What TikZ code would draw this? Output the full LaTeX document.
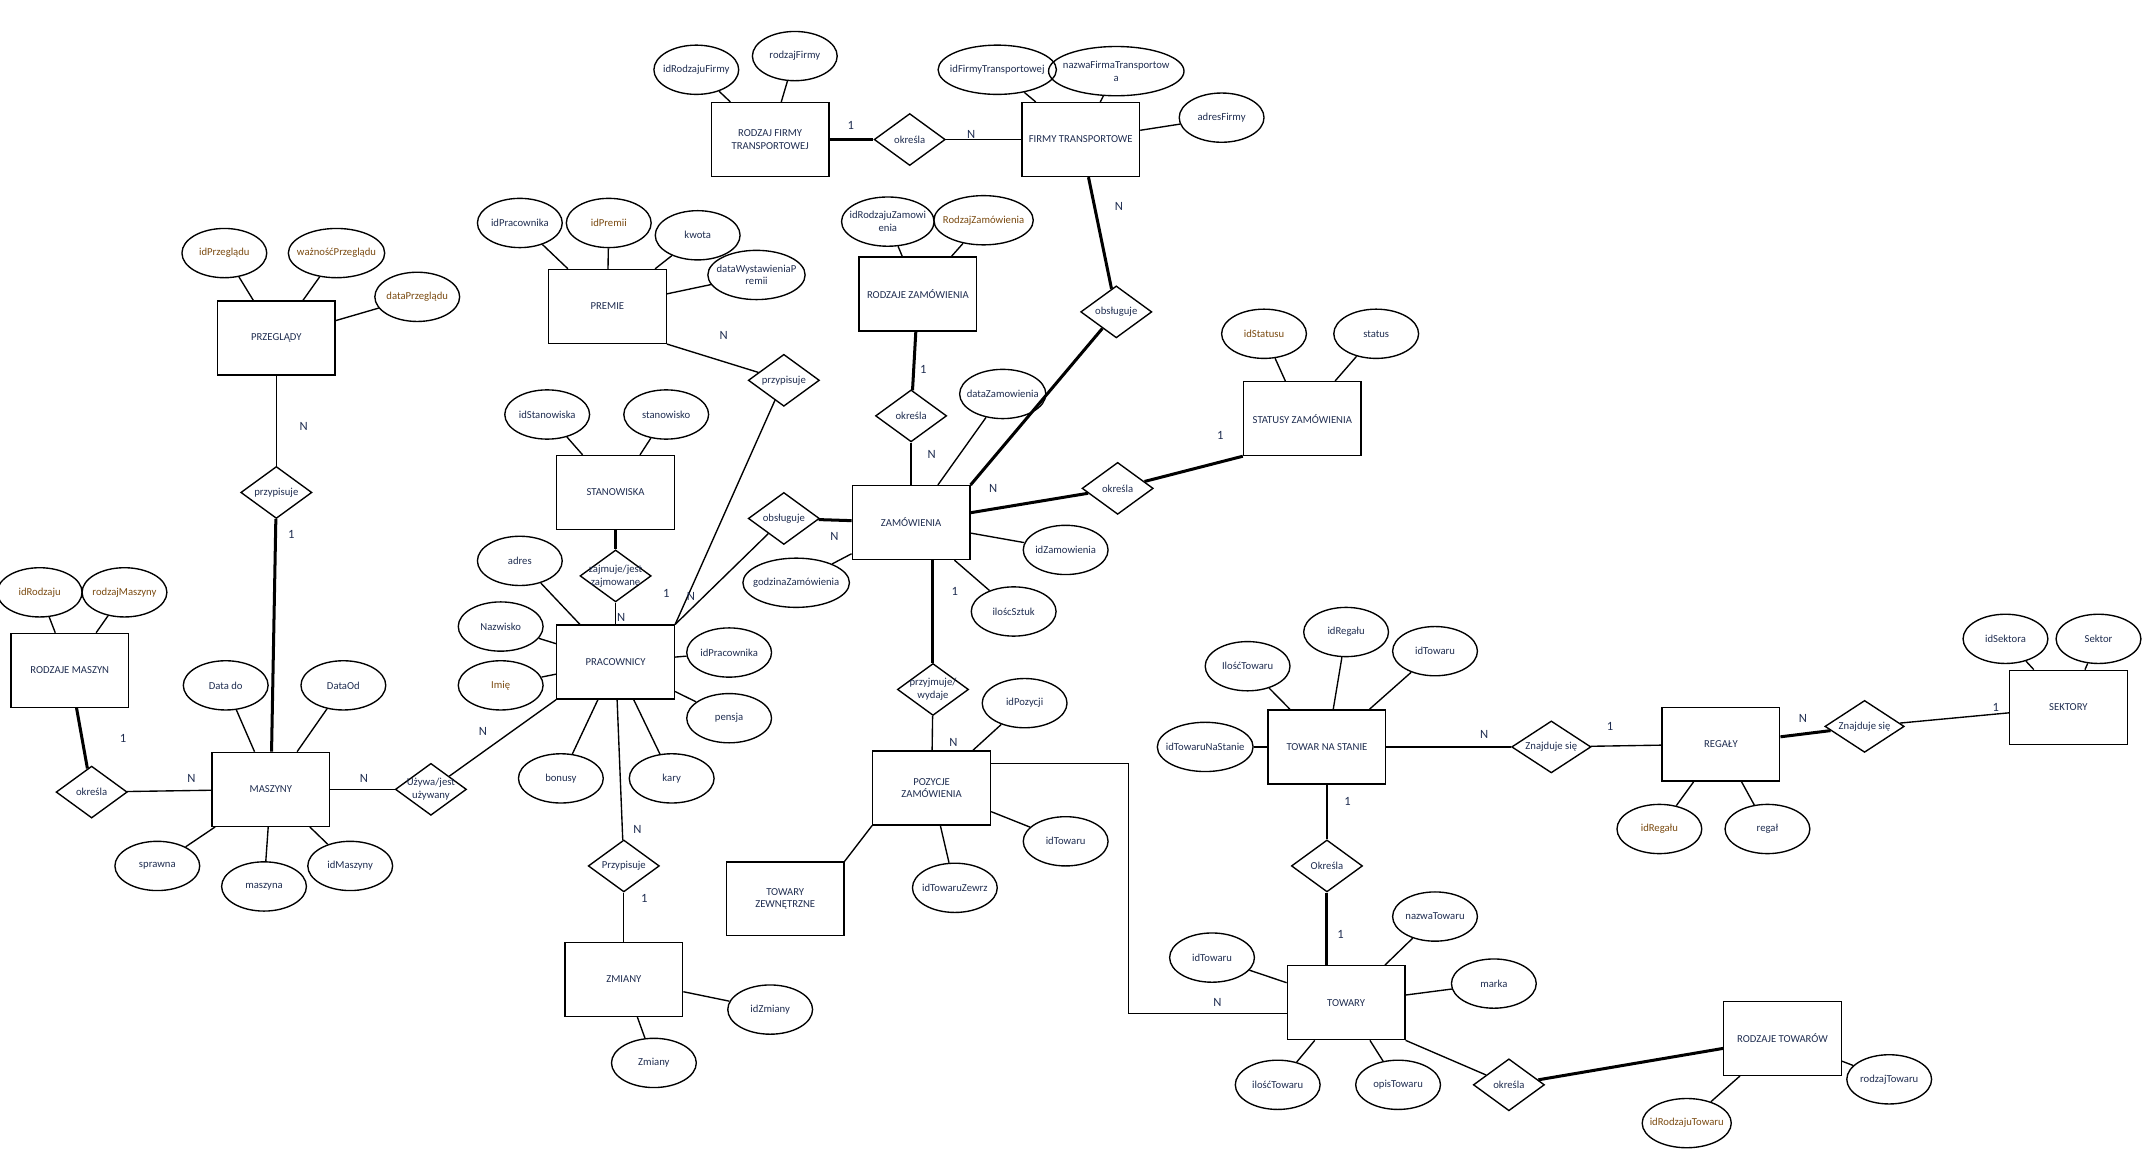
\documentclass[tikz,border=0pt]{standalone}
\usepackage{fontspec}
\setmainfont{Carlito}
\usetikzlibrary{shapes.geometric}
\definecolor{tx}{HTML}{1F2D50}
\definecolor{br}{HTML}{7A4A10}
\begin{document}
\begin{tikzpicture}[x=0.5pt,y=-0.5pt,
  every node/.style={font=\fontsize{3.9}{4.6}\selectfont,text=tx,align=center},
  ent/.style={draw,rectangle,minimum width=43pt,minimum height=27pt,inner sep=1pt},
  attr/.style={draw,ellipse,minimum width=31pt,minimum height=18pt,inner xsep=-2pt,inner ysep=0pt},
  rel/.style={draw,diamond,minimum width=26pt,minimum height=19pt,inner sep=0pt},
  thk/.style={line width=1.1pt},
  card/.style={font=\fontsize{4.6}{5}\selectfont},
  every path/.style={line width=0.5pt}]
\useasboundingbox (0,0) rectangle (1568,845);
% entities
\node[ent] (rft) at (563,102) {RODZAJ FIRMY\\TRANSPORTOWEJ};
\node[ent] (ft) at (790,102) {FIRMY TRANSPORTOWE};
\node[ent] (prem) at (444,224) {PREMIE};
\node[ent] (rz) at (671,215) {RODZAJE ZAMÓWIENIA};
\node[ent] (prz) at (202,247) {PRZEGLĄDY};
\node[ent] (stz) at (952,306) {STATUSY ZAMÓWIENIA};
\node[ent] (stan) at (450,360) {STANOWISKA};
\node[ent] (zam) at (666,382) {ZAMÓWIENIA};
\node[ent] (rm) at (51,490) {RODZAJE MASZYN};
\node[ent] (prac) at (450,484) {PRACOWNICY};
\node[ent] (masz) at (198,577) {MASZYNY};
\node[ent] (poz) at (681,576) {POZYCJE\\ZAMÓWIENIA};
\node[ent] (tns) at (970,546) {TOWAR NA STANIE};
\node[ent] (reg) at (1258,544) {REGAŁY};
\node[ent] (sek) at (1512,517) {SEKTORY};
\node[ent] (tz) at (574,657) {TOWARY\\ZEWNĘTRZNE};
\node[ent] (zm) at (456,716) {ZMIANY};
\node[ent] (tow) at (984,733) {TOWARY};
\node[ent] (rt) at (1303,759) {RODZAJE TOWARÓW};
% relations
\node[rel,label=center:określa] (r1) at (665,102) {};
\node[rel,label=center:obsługuje] (r2) at (816,228) {};
\node[rel,label=center:przypisuje] (r3) at (573,278) {};
\node[rel,label=center:określa] (r4) at (666,304) {};
\node[rel,label=center:określa] (r5) at (817,357) {};
\node[rel,label=center:obsługuje] (r6) at (573,379) {};
\node[rel,label=center:przypisuje] (r7) at (202,360) {};
\node[rel,label={[align=center]center:zajmuje/jest\\zajmowane}] (r8) at (450,421) {};
\node[rel,label={[align=center]center:przyjmuje/\\wydaje}] (r9) at (682,504) {};
\node[rel,label={[align=center]center:Używa/jest\\używany}] (r10) at (315,577) {};
\node[rel,label=center:określa] (r11) at (67,579) {};
\node[rel,label=center:Przypisuje] (r12) at (456,633) {};
\node[rel,minimum width=29pt,label=center:Znajduje się] (r13) at (1134,546) {};
\node[rel,minimum width=29pt,label=center:Znajduje się] (r14) at (1363,531) {};
\node[rel,label=center:Określa] (r15) at (970,633) {};
\node[rel,label=center:określa] (r16) at (1103,793) {};
% attributes
\node[attr] (a1) at (509,51) {idRodzajuFirmy};
\node[attr] (a2) at (581,41) {rodzajFirmy};
\node[attr] (a3) at (729,51) {idFirmyTransportowej};
\node[attr] (a4) at (816,52) {nazwaFirmaTransportow\\a};
\node[attr] (a5) at (893,86) {adresFirmy};
\node[attr] (a6) at (380,163) {idPracownika};
\node[attr] (a7) at (445,163) {\color{br}idPremii};
\node[attr] (a8) at (510,172) {kwota};
\node[attr] (a9) at (553,201) {dataWystawieniaP\\remii};
\node[attr] (a10) at (649,162) {idRodzajuZamowi\\enia};
\node[attr] (a11) at (719,161) {\color{br}RodzajZamówienia};
\node[attr] (a12) at (164,185) {\color{br}idPrzeglądu};
\node[attr] (a13) at (246,185) {\color{br}ważnośćPrzeglądu};
\node[attr] (a14) at (305,217) {\color{br}dataPrzeglądu};
\node[attr] (a15) at (924,244) {\color{br}idStatusu};
\node[attr] (a16) at (1006,244) {status};
\node[attr] (a17) at (400,303) {idStanowiska};
\node[attr] (a18) at (487,303) {stanowisko};
\node[attr] (a19) at (733,288) {dataZamowienia};
\node[attr] (a20) at (779,402) {idZamowienia};
\node[attr] (a21) at (582,426) {godzinaZamówienia};
\node[attr] (a22) at (741,447) {iloścSztuk};
\node[attr] (a23) at (380,410) {adres};
\node[attr] (a24) at (366,458) {Nazwisko};
\node[attr] (a25) at (366,501) {\color{br}Imię};
\node[attr] (a26) at (533,477) {idPracownika};
\node[attr] (a27) at (533,525) {pensja};
\node[attr] (a28) at (410,569) {bonusy};
\node[attr] (a29) at (491,569) {kary};
\node[attr] (a30) at (29,433) {\color{br}idRodzaju};
\node[attr] (a31) at (91,433) {\color{br}rodzajMaszyny};
\node[attr] (a32) at (165,501) {Data do};
\node[attr] (a33) at (251,501) {DataOd};
\node[attr] (a34) at (115,633) {sprawna};
\node[attr] (a35) at (193,648) {maszyna};
\node[attr] (a36) at (256,633) {idMaszyny};
\node[attr] (a37) at (749,514) {idPozycji};
\node[attr] (a38) at (779,615) {idTowaru};
\node[attr] (a39) at (698,649) {idTowaruZewrz};
\node[attr] (a40) at (563,738) {idZmiany};
\node[attr] (a41) at (478,777) {Zmiany};
\node[attr] (a42) at (912,487) {IlośćTowaru};
\node[attr] (a43) at (984,462) {idRegału};
\node[attr] (a44) at (1049,476) {idTowaru};
\node[attr] (a45) at (881,546) {idTowaruNaStanie};
\node[attr] (a46) at (1213,606) {\color{br}idRegału};
\node[attr] (a47) at (1292,606) {regał};
\node[attr] (a48) at (1466,467) {idSektora};
\node[attr] (a49) at (1534,467) {Sektor};
\node[attr] (a50) at (886,700) {idTowaru};
\node[attr] (a51) at (1049,670) {nazwaTowaru};
\node[attr] (a52) at (1092,719) {marka};
\node[attr] (a53) at (934,793) {ilośćTowaru};
\node[attr] (a54) at (1022,793) {opisTowaru};
\node[attr] (a55) at (1233,821) {\color{br}idRodzajuTowaru};
\node[attr] (a56) at (1381,789) {rodzajTowaru};
% attribute links
\foreach \a/\e in {a1/rft,a2/rft,a3/ft,a4/ft,a5/ft,a6/prem,a7/prem,a8/prem,a9/prem,a10/rz,a11/rz,a12/prz,a13/prz,a14/prz,a15/stz,a16/stz,a17/stan,a18/stan,a19/zam,a20/zam,a21/zam,a22/zam,a23/prac,a24/prac,a25/prac,a26/prac,a27/prac,a28/prac,a29/prac,a30/rm,a31/rm,a32/masz,a33/masz,a34/masz,a35/masz,a36/masz,a37/poz,a38/poz,a39/poz,a40/zm,a41/zm,a42/tns,a43/tns,a44/tns,a45/tns,a46/reg,a47/reg,a48/sek,a49/sek,a50/tow,a51/tow,a52/tow,a53/tow,a54/tow,a55/rt,a56/rt}
  \draw (\a) -- (\e);
% relation links
\draw[thk] (rft) -- (r1); \draw (r1) -- (ft);
\draw[thk] (ft) -- (r2); \draw[thk] (r2) -- (zam.north east);
\draw (prem.south east) -- (r3); \draw (r3) -- (prac.north east);
\draw[thk] (rz) -- (r4); \draw (r4) -- (zam);
\draw[thk] (zam) -- (r5); \draw[thk] (r5) -- (stz.south west);
\draw[thk] (zam) -- (r6); \draw (r6) -- (prac.north east);
\draw (prz) -- (r7); \draw[thk] (r7) -- (masz);
\draw[thk] (stan) -- (r8); \draw (r8) -- (prac);
\draw[thk] (zam.south -| r9) -- (r9); \draw (r9) -- (poz);
\draw (masz) -- (r10); \draw (r10) -- (prac.south west);
\draw[thk] (rm) -- (r11); \draw (r11) -- (masz);
\draw (prac) -- (r12); \draw (r12) -- (zm);
\draw (poz.south west) -- (tz.north east);
\draw (poz.east |- 0,558) -- (825,558) -- (825,741) -- (tow.west |- 0,741);
\draw (tns) -- (r13); \draw (r13) -- (reg);
\draw[thk] (reg) -- (r14); \draw (r14) -- (sek);
\draw (tns) -- (r15); \draw[thk] (r15) -- (r15 |- tow.north);
\draw (tow.south east) -- (r16); \draw[thk] (r16) -- (rt);
% cardinalities
\foreach \x/\y/\t in {622/92/1,710/98/N,818/151/N,529/245/N,487/434/1,675/270/1,681/332/N,726/357/N,892/318/1,505/436/N,610/392/N,222/312/N,213/391/1,454/451/N,698/432/1,697/543/N,266/569/N,353/535/N,90/540/1,140/569/N,466/606/N,471/657/1,890/733/N,1085/537/N,1177/531/1,1318/525/N,1459/517/1,985/586/1,980/683/1}
  \node[card] at (\x,\y) {\t};
\end{tikzpicture}
\end{document}
